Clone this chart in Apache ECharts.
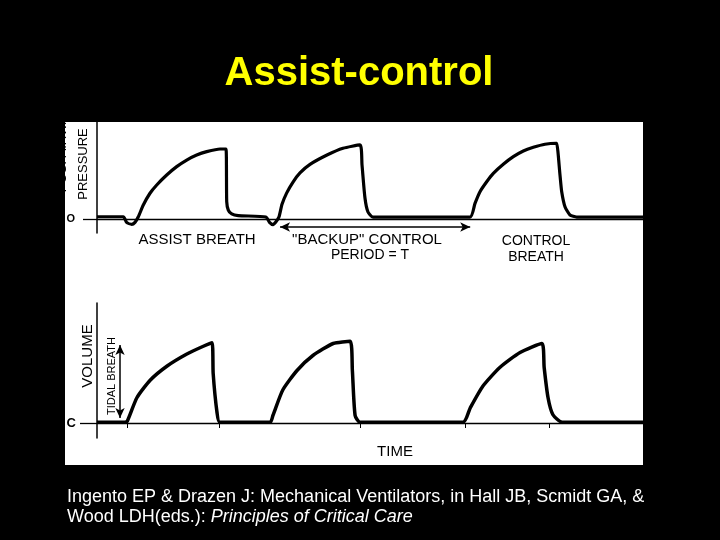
<!DOCTYPE html>
<html>
<head>
<meta charset="utf-8">
<script src="https://cdn.jsdelivr.net/npm/echarts@6/dist/echarts.min.js"></script>
<style>html,body{margin:0;padding:0;background:#000;}#c{width:720px;height:540px;}</style>
</head>
<body>
<div id="c"></div>
<script>
// Time axis (arbitrary units 0..100), airway pressure and volume (arbitrary units)
var pressureTrace = [
  [0,0.16],[4.8,0.16],[5.4,-0.24],[6.33,-0.38],[6.93,-0.24],[7.54,0.16],[8.45,1.0],[9.67,1.84],
  [10.9,2.43],[12.72,3.14],[14.54,3.74],[16.37,4.21],[18.19,4.57],[20.02,4.81],[22.45,5.0],
  [23.54,5.0],[23.67,1.24],[23.96,0.64],[24.58,0.36],[25.78,0.24],
  [30.84,0.14],[31.48,-0.24],[32.12,-0.4],[32.66,-0.2],[33.2,0.14],[33.76,1.05],[34.6,1.85],
  [35.77,2.64],[37.04,3.29],[38.87,3.9],[41.97,4.57],[44.89,5.05],[47.99,5.29],[48.36,3.86],
  [48.9,1.5],[49.45,0.5],[50.36,0.14],
  [68.07,0.14],[68.98,1.12],[69.89,1.95],[71.11,2.66],[72.32,3.26],[74.14,3.91],[75.97,4.45],
  [77.79,4.86],[79.62,5.12],[81.75,5.34],[83.76,5.41],[83.89,5.41],[84.49,3.14],[84.8,1.95],
  [85.4,0.88],[86.31,0.29],[87.54,0.14],[100,0.14]
];
var volumeTrace = [
  [0,0.05],[5.1,0.05],[5.5,0.1],[7.3,1.7],[9.7,2.85],[12.8,3.8],[16.4,4.6],[19.3,5.1],[21.0,5.35],
  [21.2,3.3],[21.9,0.7],[22.4,0.05],[31.6,0.05],[32.1,0.5],[33.9,2.2],[36.5,3.5],[39.4,4.5],
  [43.1,5.3],[46.2,5.45],[46.6,3.5],[47.1,0.5],[48.0,0.05],[66.8,0.05],[68.1,1.0],[70.4,2.45],
  [73.5,3.7],[77.2,4.7],[81.2,5.3],[81.6,3.7],[82.3,1.7],[83.2,0.55],[84.9,0.05],[100,0.05]
];
var volumeTicks = [5.5, 22.3, 48.0, 67.2, 82.5];
var backupArrow = {from: 33.4, to: 68.1, level: -0.57};   // "backup" period T
var tidalArrow = {at: 4.2, from: 0.33, to: 5.2};          // tidal breath
var pressureZeroLabel = 'O';
var volumeZeroLabel = 'C';

var FONT = "'Liberation Sans', Arial, sans-serif";
var chart = echarts.init(document.getElementById('c'));

function txt(x, y, s, size, opts) {
  opts = opts || {};
  return {
    type: 'text', x: x, y: y, rotation: opts.rot || 0, z: 50,
    style: {
      text: s, fill: opts.color || '#000', fontSize: size, fontFamily: FONT,
      fontWeight: opts.weight || 'normal', align: opts.align || 'center',
      verticalAlign: 'middle', rich: opts.rich
    }
  };
}

chart.setOption({
  backgroundColor: '#000',
  animation: false,
  grid: [
    {left: 97, right: 75, top: 121, height: 112},
    {left: 97, right: 75, top: 303, height: 135}
  ],
  xAxis: [
    {type: 'value', gridIndex: 0, min: 0, max: 100, splitLine: {show: false},
     axisLine: {onZero: true, lineStyle: {color: '#000', width: 1.3}},
     axisTick: {show: false}, axisLabel: {show: false}},
    {type: 'value', gridIndex: 1, min: 0, max: 100, splitLine: {show: false},
     axisLine: {onZero: true, lineStyle: {color: '#000', width: 1.3}},
     axisTick: {show: true, customValues: volumeTicks, length: 5, lineStyle: {color: '#000', width: 1}},
     axisLabel: {show: false}}
  ],
  yAxis: [
    {type: 'value', gridIndex: 0, min: -1, max: 7, splitLine: {show: false},
     axisLine: {show: true, lineStyle: {color: '#000', width: 1.5}},
     axisTick: {show: true, customValues: [0], length: 14, lineStyle: {color: '#000', width: 1.3}},
     axisLabel: {show: true, customValues: [0], formatter: function(){return pressureZeroLabel;},
       margin: 22, color: '#000', fontSize: 11, fontWeight: 'bold', fontFamily: FONT}},
    {type: 'value', gridIndex: 1, min: -1, max: 8, splitLine: {show: false},
     axisLine: {show: true, lineStyle: {color: '#000', width: 1.5}},
     axisTick: {show: true, customValues: [0], length: 17, lineStyle: {color: '#000', width: 1.3}},
     axisLabel: {show: true, customValues: [0], formatter: function(){return volumeZeroLabel;},
       margin: 21, color: '#000', fontSize: 13, fontWeight: 'bold', fontFamily: FONT}}
  ],
  series: [
    {type: 'line', xAxisIndex: 0, yAxisIndex: 0, data: pressureTrace, symbol: 'none',
     smooth: 0.2, lineStyle: {color: '#000', width: 3.2}, silent: true,
     markLine: {silent: true, symbol: ['arrow', 'arrow'], symbolSize: [7, 10],
       label: {show: false}, lineStyle: {color: '#000', width: 1.5, type: 'solid'},
       data: [[{coord: [backupArrow.from, backupArrow.level]}, {coord: [backupArrow.to, backupArrow.level]}]]}},
    {type: 'line', xAxisIndex: 1, yAxisIndex: 1, data: volumeTrace, symbol: 'none',
     smooth: 0.2, lineStyle: {color: '#000', width: 3.5}, silent: true,
     markLine: {silent: true, symbol: ['arrow', 'arrow'], symbolSize: [7, 10],
       label: {show: false}, lineStyle: {color: '#000', width: 1.5, type: 'solid'},
       data: [[{coord: [tidalArrow.at, tidalArrow.from]}, {coord: [tidalArrow.at, tidalArrow.to]}]]}}
  ],
  graphic: [
    {type: 'rect', shape: {x: 65, y: 122, width: 578, height: 343}, style: {fill: '#fff'}, z: -10},
    txt(359, 74, 'Assist-control', 40, {color: '#ffff00', weight: 'bold'}),
    txt(62, 150, 'POS. AIRWAY', 13, {rot: Math.PI / 2}),
    txt(83, 164, 'PRESSURE', 13, {rot: Math.PI / 2}),
    txt(88, 356, 'VOLUME', 15, {rot: Math.PI / 2}),
    txt(112, 376, 'TIDAL BREATH', 11, {rot: Math.PI / 2}),
    txt(197, 240, 'ASSIST BREATH', 15),
    txt(367, 240, '"BACKUP" CONTROL', 15),
    txt(370, 255, 'PERIOD = T', 14),
    txt(536, 241, 'CONTROL', 14),
    txt(536, 257, 'BREATH', 14),
    txt(395, 452, 'TIME', 15),
    txt(67, 497, 'Ingento EP & Drazen J: Mechanical Ventilators, in Hall JB, Scmidt GA, &', 18,
        {color: '#fff', align: 'left'}),
    txt(67, 517, 'Wood LDH(eds.): {i|Principles of Critical Care}', 18,
        {color: '#fff', align: 'left', rich: {i: {fontStyle: 'italic', fill: '#fff', fontSize: 18, fontFamily: FONT}}})
  ]
});
</script>
</body>
</html>
